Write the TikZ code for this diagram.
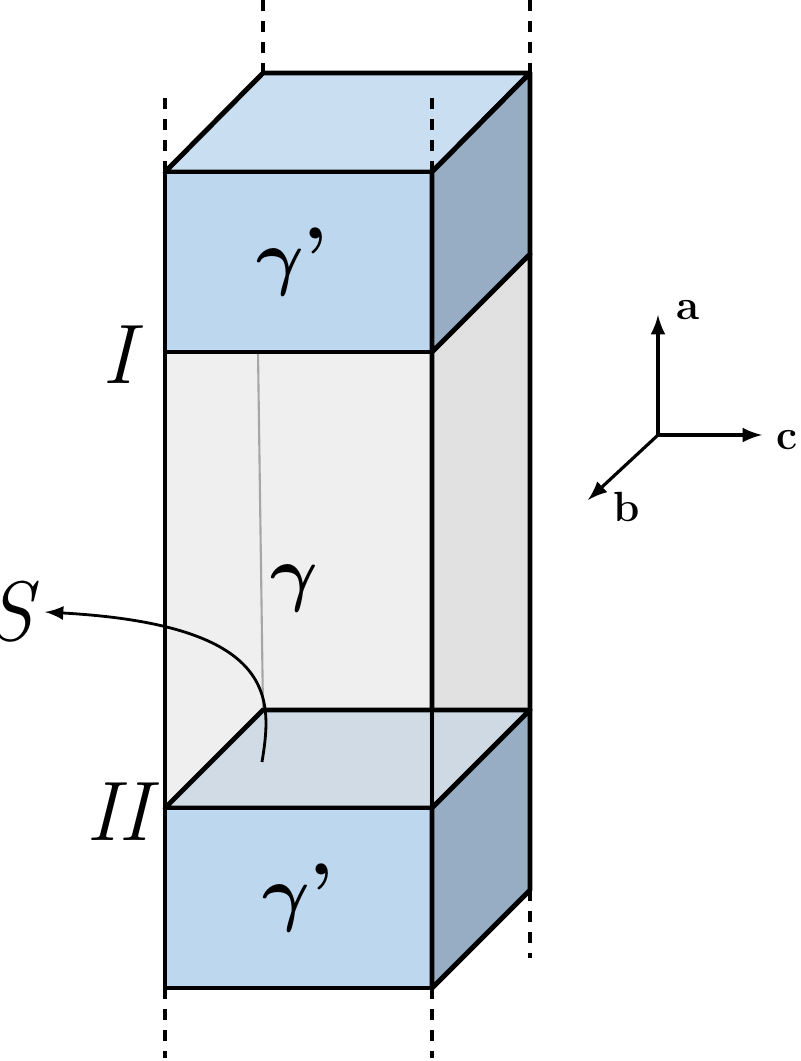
\documentclass[tikz,border=0pt]{standalone}
\usepackage{amsmath}
\usepackage{bm}
\usepackage{tikz}
\usetikzlibrary{arrows}
\definecolor{gpfront}{HTML}{BDD7EE}
\definecolor{gptop}{HTML}{CADEF2}
\definecolor{gpside}{HTML}{97ADC4}
\definecolor{gfront}{HTML}{EFEFEF}
\definecolor{gside}{HTML}{E1E1E1}
\definecolor{gbase}{HTML}{CDD9E4}
\begin{document}
\begin{tikzpicture}[x=0.01cm, y=-0.01cm, line join=round]
\tikzstyle{face}=[draw=black, line width=1.4pt]
\tikzstyle{guide}=[dashed, line width=1pt]
\tikzstyle{phase}=[font=\fontsize{22}{24}\selectfont\bfseries]
\tikzstyle{seclab}=[font=\fontsize{24}{26}\selectfont\itshape]
\tikzstyle{axis}=[->, >=latex, line width=0.9pt]
\tikzstyle{axlab}=[font=\fontsize{12}{14}\selectfont\bfseries]
\useasboundingbox (0,0) rectangle (800,1061);
% guide lines
\draw[guide] (263,0) -- (263,73);
\draw[guide] (530,0) -- (530,73);
\draw[guide] (165,98) -- (165,172);
\draw[guide] (165,988) -- (165,1058);
\draw[guide] (432,988) -- (432,1058);
\draw[guide] (530,890) -- (530,958);
% middle gamma part
\fill[gfront] (165,352) rectangle (432,808);
\draw[face, fill=gside] (432,352) -- (530,254) -- (530,710) -- (432,808) -- cycle;
\draw[gray!70, line width=0.6pt] (258,352) -- (263,710);
\draw[face, fill=gbase, fill opacity=0.9] (165,808) -- (263,710) -- (530,710) -- (432,808) -- cycle;
% bottom gamma' block
\draw[face, fill=gpfront] (165,808) rectangle (432,988);
\draw[face, fill=gpside] (432,808) -- (530,710) -- (530,890) -- (432,988) -- cycle;
% top gamma' block
\draw[face, fill=gptop] (165,172) -- (263,73) -- (530,73) -- (432,172) -- cycle;
\draw[face, fill=gpfront] (165,172) rectangle (432,352);
\draw[face, fill=gpside] (432,172) -- (530,73) -- (530,254) -- (432,352) -- cycle;
\draw[guide] (432,98) -- (432,172);
\draw[face] (165,352) -- (165,808);
\draw[face] (432,352) -- (432,808);
% labels
\node[phase] (gtop) at (292,262) {$\bm{\gamma}$\textbf{'}};
\node[phase] (gmid) at (294,588) {$\bm{\gamma}$};
\node[phase] (gbot) at (298,898) {$\bm{\gamma}$\textbf{'}};
\node[seclab] (lI) at (118,355) {I};
\node[seclab] (lII) at (118,812) {II};
\node[seclab, anchor=east] (lS) at (45,612) {S};
\coordinate (sfoot) at (262,762);
\draw[->, >=latex, line width=0.8pt] (sfoot) .. controls (272,700) and (280,625) .. (lS.east);
% axes
\coordinate (o) at (658,435);
\coordinate (ta) at (658,315);
\coordinate (tc) at (762,435);
\coordinate (tb) at (588,500);
\draw[axis] (o) -- (ta);
\draw[axis] (o) -- (tc);
\draw[axis] (o) -- (tb);
\node[axlab] (la) at (688,310) {a};
\node[axlab] (lc) at (787,440) {c};
\node[axlab] (lb) at (627,507) {b};
\end{tikzpicture}
\end{document}
